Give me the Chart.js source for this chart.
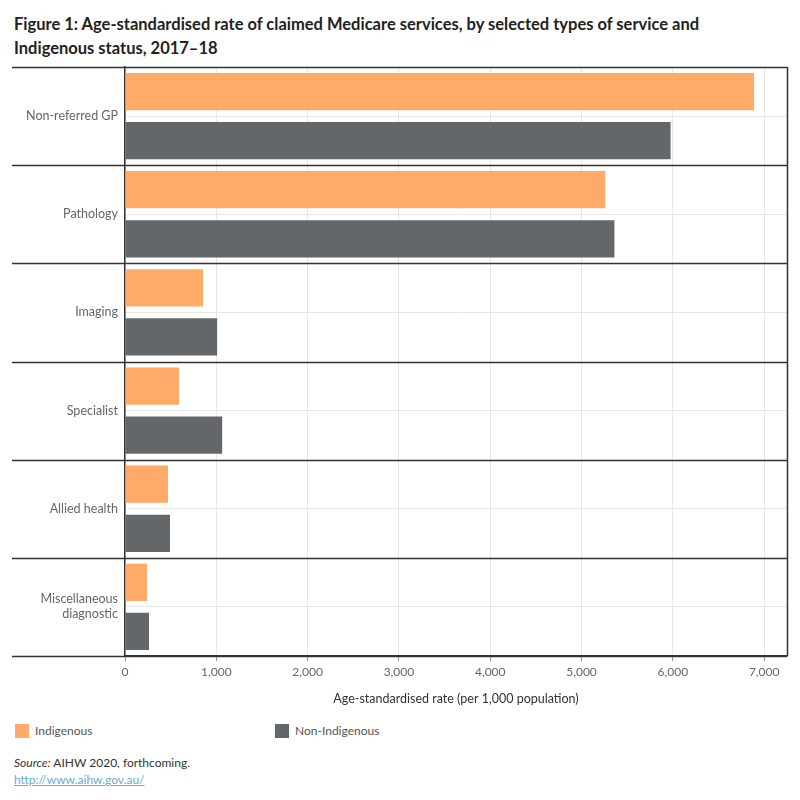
<!DOCTYPE html>
<html>
<head>
<meta charset="utf-8">
<script src="https://cdn.jsdelivr.net/npm/chart.js@4"></script>
<style>
  body { margin: 0; width: 800px; height: 800px; background: #fff; font-family: Lato, "Open Sans", sans-serif; position: relative; overflow: hidden; }
  #title { position: absolute; left: 14px; top: 12px; width: 780px; font-size: 16.5px; font-weight: bold; color: #222; line-height: 24px; }
  #chart-box { position: absolute; left: 0; top: 45px; width: 800px; height: 665px; }
  .legend { position: absolute; top: 723px; font-size: 12px; color: #555; display: flex; align-items: center; }
  .legend span.sw { display: inline-block; width: 14px; height: 14px; margin-right: 6px; }
  #source { position: absolute; left: 14px; top: 754px; font-size: 12px; color: #333; line-height: 17px; }
  #source a { color: #6aaad2; text-decoration: underline; }
</style>
</head>
<body>
<div id="title">Figure 1: Age-standardised rate of claimed Medicare services, by selected types of service and<br>Indigenous status, 2017–18</div>
<div id="chart-box"><canvas id="c"></canvas></div>
<div class="legend" style="left:15px"><span class="sw" style="background:#ffaa69"></span>Indigenous</div>
<div class="legend" style="left:275px"><span class="sw" style="background:#63676a"></span>Non-Indigenous</div>
<div id="source"><i>Source:</i> AIHW 2020, forthcoming.<br><a>http://www.aihw.gov.au/</a></div>
<script>
const categories = [
  "Non-referred GP",
  "Pathology",
  "Imaging",
  "Specialist",
  "Allied health",
  ["Miscellaneous", "diagnostic"],
];
const indigenous = [6890, 5260, 855, 592, 471, 241];
const nonIndigenous = [5975, 5360, 1009, 1064, 493, 263];
const xTicks = [0, 1000, 2000, 3000, 4000, 5000, 6000, 7000];

const COLORS = { indigenous: "#ffaa69", nonIndigenous: "#63676a" };

// dark separators between categories plus the right frame line
const CATEGORY_LINES_PLUGIN = {
  id: "categoryLines",
  afterDraw: (chart) => {
    const y = chart.scales.y;
    const area = chart.chartArea;
    const ctx = chart.ctx;
    const n = categories.length;
    const step = (y.bottom - y.top) / n;
    ctx.save();
    ctx.strokeStyle = "#333";
    ctx.lineWidth = 1.5;
    for (let i = 0; i <= n; i++) {
      const py = Math.round(y.top + i * step) + 0.5;
      ctx.beginPath();
      ctx.moveTo(12, py);
      ctx.lineTo(area.right, py);
      ctx.stroke();
    }
    ctx.beginPath();
    ctx.moveTo(area.right + 0.5, area.top);
    ctx.lineTo(area.right + 0.5, area.bottom);
    ctx.stroke();
    ctx.restore();
  },
};

new Chart(document.getElementById("c"), {
  type: "bar",
  data: {
    labels: categories,
    datasets: [
      { label: "Indigenous", data: indigenous, backgroundColor: COLORS.indigenous },
      { label: "Non-Indigenous", data: nonIndigenous, backgroundColor: COLORS.nonIndigenous },
    ],
  },
  options: {
    indexAxis: "y",
    responsive: true,
    maintainAspectRatio: false,
    animation: false,
    layout: { padding: { top: 7, right: 13, left: 0, bottom: 0 } },
    datasets: { bar: { barPercentage: 0.76, categoryPercentage: 1 } },
    plugins: { legend: { display: false }, tooltip: { enabled: false } },
    scales: {
      x: {
        min: 0,
        max: 7250,
        afterBuildTicks: (scale) => { scale.ticks = xTicks.map((v) => ({ value: v })); },
        ticks: { color: "#666", padding: 4, font: { family: "Lato", size: 12 } },
        grid: { color: "#e6e6e6", tickLength: 5, tickColor: "#999" },
        border: { color: "#333", width: 1.5 },
        title: {
          display: true,
          text: "Age-standardised rate (per 1,000 population)",
          color: "#333",
          font: { family: "Lato", size: 12.5 },
          padding: { top: 6 },
        },
        afterFit: (scale) => { scale.height = 54; },
      },
      y: {
        ticks: { color: "#666", padding: 7, font: { family: "Lato", size: 12.5 } },
        grid: { offset: false, color: "#e6e6e6", drawTicks: false },
        border: { color: "#333", width: 1.5 },
        afterFit: (scale) => { scale.width = 125; },
      },
    },
  },
  plugins: [CATEGORY_LINES_PLUGIN],
});
</script>
</body>
</html>
